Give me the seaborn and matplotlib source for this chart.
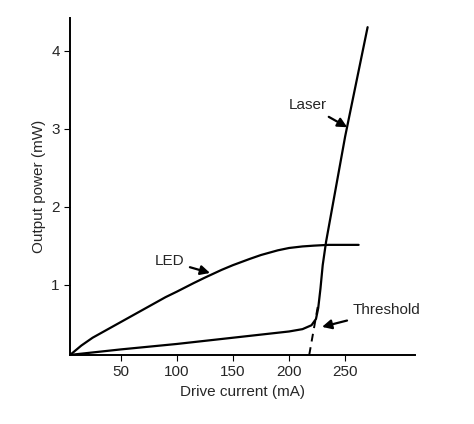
import matplotlib
matplotlib.use("Agg")
import matplotlib.pyplot as plt
import seaborn as sns

led_x = [5, 15, 25, 40, 50, 65, 75, 90, 100, 115, 125, 140, 150, 165, 175, 190, 200, 212, 222, 235, 250, 262]
led_y = [0.1, 0.22, 0.32, 0.44, 0.52, 0.64, 0.72, 0.84, 0.91, 1.02, 1.09, 1.19, 1.25, 1.33, 1.38, 1.44, 1.47, 1.49, 1.5, 1.51, 1.51, 1.51]
laser_x = [5, 50, 100, 150, 200, 212, 220, 224, 226, 228, 230, 233, 250, 270]
laser_y = [0.1, 0.17, 0.24, 0.32, 0.4, 0.43, 0.48, 0.56, 0.7, 0.95, 1.25, 1.55, 2.9, 4.3]
thr_x = [218, 226]
thr_y = [0.1, 0.75]
xticks = [50, 100, 150, 200, 250]
yticks = [1, 2, 3, 4]

sns.set_style("ticks")
plt.rcParams['font.family'] = ['Liberation Sans Narrow', 'Liberation Sans', 'DejaVu Sans']
fig = plt.figure(figsize=(4.74, 4.24), dpi=100)
ax = fig.add_axes([0.148, 0.163, 0.727, 0.795])
sns.lineplot(x=led_x, y=led_y, ax=ax, color="black", lw=1.6)
sns.lineplot(x=laser_x, y=laser_y, ax=ax, color="black", lw=1.6)
sns.lineplot(x=thr_x, y=thr_y, ax=ax, color="black", lw=1.4, linestyle=(0, (4, 3)))
ax.set_xlim(5, 312)
ax.set_ylim(0.1, 4.42)
ax.set_xticks(xticks)
ax.set_yticks(yticks)
ax.tick_params(labelsize=11, length=4, color="black")
for s in ["top", "right"]:
    ax.spines[s].set_visible(False)
for s in ["left", "bottom"]:
    ax.spines[s].set_color("black")
    ax.spines[s].set_linewidth(1.4)
ax.set_xlabel("Drive current (mA)", fontsize=11)
ax.set_ylabel("Output power (mW)", fontsize=11)
ap = dict(arrowstyle="-|>", color="black", lw=1.6, mutation_scale=14)
ax.annotate("Laser", xy=(254, 3.0), xytext=(200, 3.3), fontsize=11, arrowprops=ap, va="center")
ax.annotate("LED", xy=(132, 1.14), xytext=(80, 1.3), fontsize=11, arrowprops=ap, va="center")
ax.annotate("Threshold", xy=(227, 0.45), xytext=(257, 0.67), fontsize=11, arrowprops=ap, va="center")
fig.savefig("out.png", dpi=100)
